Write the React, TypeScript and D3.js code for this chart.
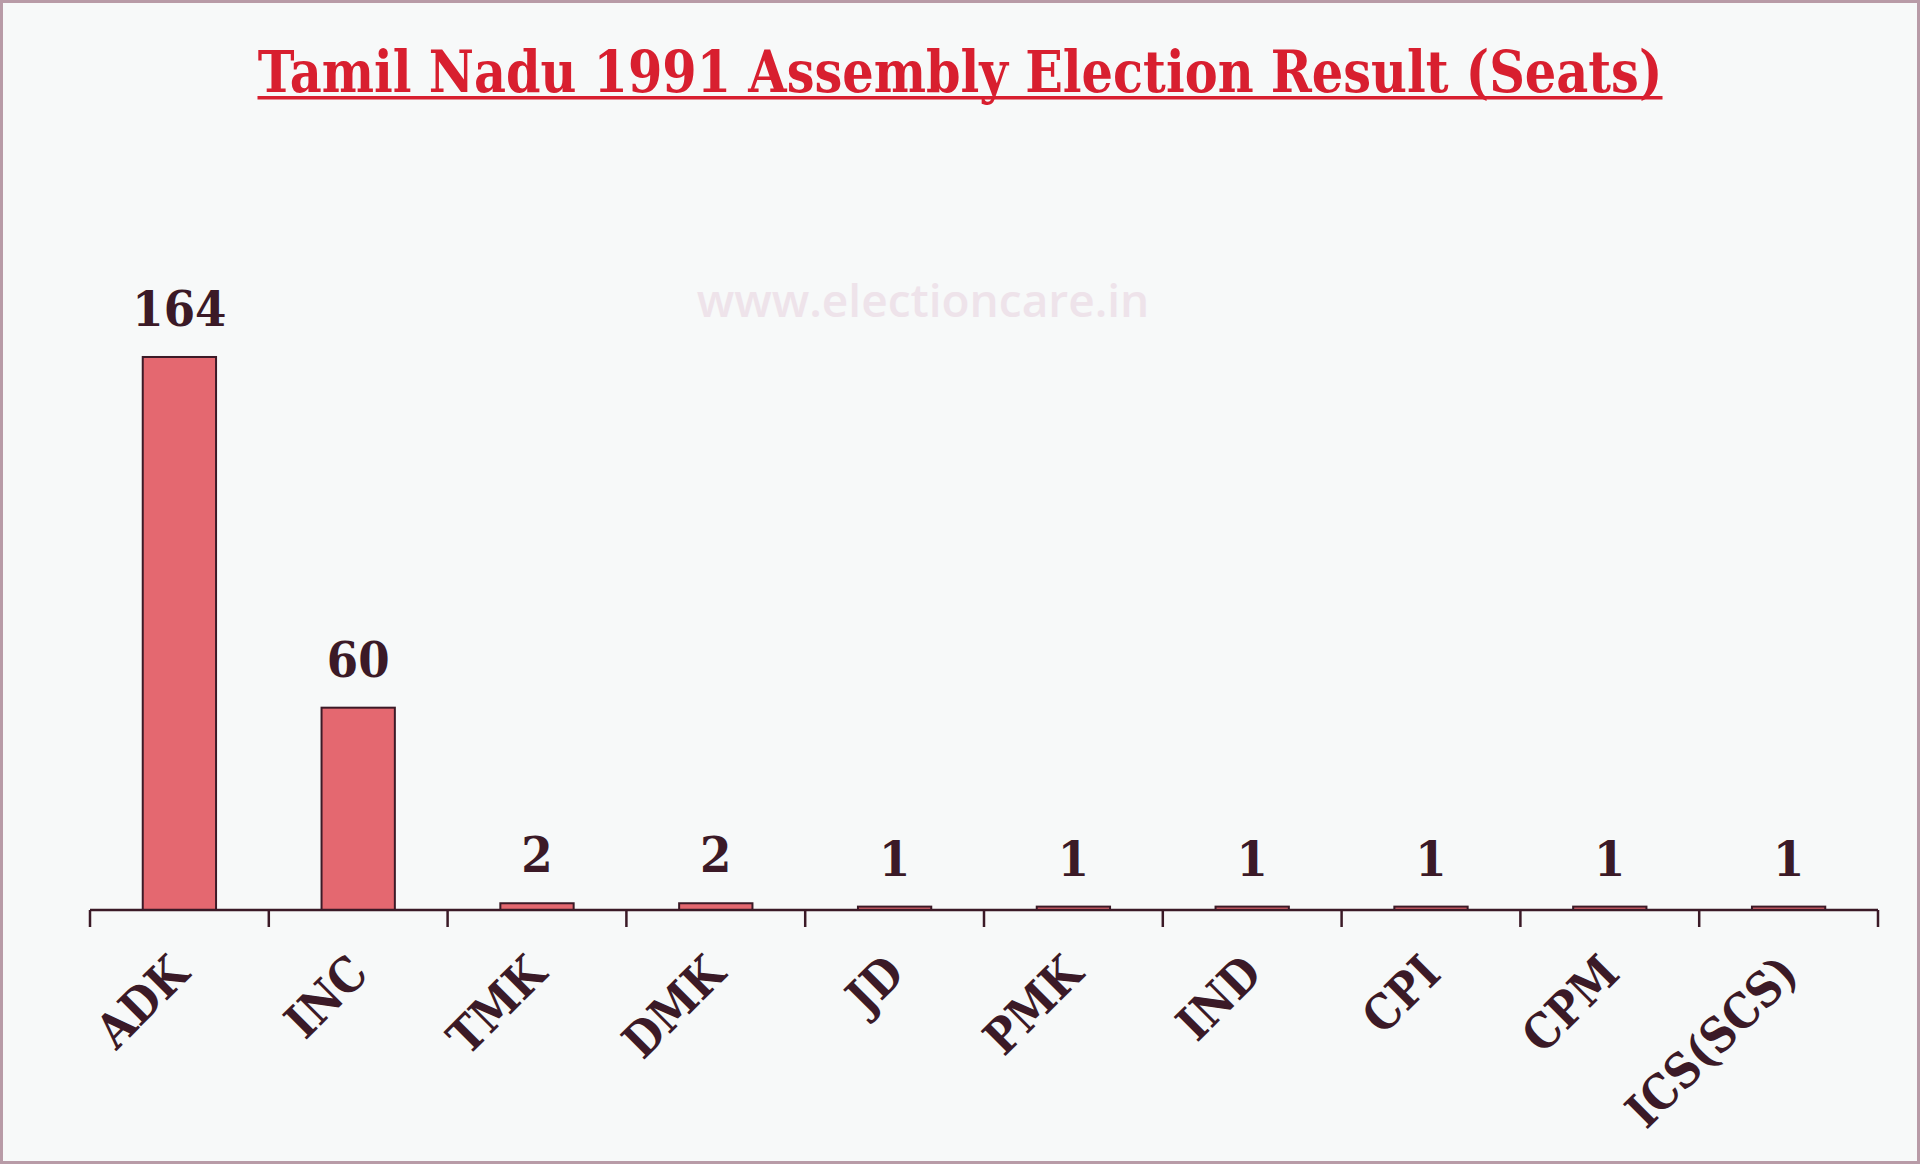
import React, { useEffect, useRef } from 'react';
import * as d3 from 'd3';

const parties = ['ADK', 'INC', 'TMK', 'DMK', 'JD', 'PMK', 'IND', 'CPI', 'CPM', 'ICS(SCS)'];
const seats = [164, 60, 2, 2, 1, 1, 1, 1, 1, 1];

const W = 1920;
const H = 1164;
const ink = '#3b1a27';
const serif = '"DejaVu Serif", serif';

const App: React.FC = () => {
  const ref = useRef<SVGSVGElement>(null);

  useEffect(() => {
    if (!ref.current) return;
    const svg = d3.select(ref.current);
    svg.selectAll('*').remove();

    const data = parties.map((p, i) => ({ name: p, value: seats[i] }));

    // plot area
    const left = 90, right = 1878, base = 910;

    // background + border
    svg.append('rect')
      .attr('x', 1.5).attr('y', 1.5)
      .attr('width', W - 3).attr('height', H - 3)
      .attr('fill', '#f7f9f9')
      .attr('stroke', '#b89ba7')
      .attr('stroke-width', 3);

    // title, scaled horizontally to the width of the original
    const titleW = 1405;
    const title = svg.append('text')
      .attr('x', 0)
      .attr('y', 0)
      .attr('text-anchor', 'middle')
      .attr('fill', '#d81f2f')
      .style('font-family', serif)
      .style('font-weight', 'bold')
      .style('font-size', '57px')
      .text('Tamil Nadu 1991 Assembly Election Result (Seats)');
    const tw = (title.node() as SVGTextElement).getComputedTextLength();
    title.attr('transform', `translate(${W / 2},92) scale(${titleW / tw},1)`);
    svg.append('rect')
      .attr('x', W / 2 - titleW / 2)
      .attr('y', 96)
      .attr('width', titleW)
      .attr('height', 3.5)
      .attr('fill', '#d81f2f');

    // watermark
    svg.append('text')
      .attr('x', 923)
      .attr('y', 317)
      .attr('text-anchor', 'middle')
      .attr('fill', '#eee3ea')
      .style('font-family', '"Open Sans", sans-serif')
      .style('font-weight', 600)
      .style('font-size', '46px')
      .text('www.electioncare.in');

    const x = d3.scaleBand<string>()
      .domain(parties)
      .range([left, right])
      .paddingInner(0.59)
      .paddingOuter(0.295);

    const y = d3.scaleLinear()
      .domain([0, 180])
      .range([base, base - 180 * 3.372]);

    const band = (right - left) / parties.length;

    // bars
    svg.selectAll('.bar')
      .data(data)
      .enter()
      .append('rect')
      .attr('class', 'bar')
      .attr('x', d => x(d.name) as number)
      .attr('y', d => y(d.value))
      .attr('width', x.bandwidth())
      .attr('height', d => base - y(d.value))
      .attr('fill', '#e46870')
      .attr('stroke', ink)
      .attr('stroke-width', 2);

    // value labels
    svg.selectAll('.label')
      .data(data)
      .enter()
      .append('text')
      .attr('class', 'label')
      .attr('transform', d => {
        const cx = (x(d.name) as number) + x.bandwidth() / 2;
        return `translate(${cx},${y(d.value) - 31}) scale(0.94,1)`;
      })
      .attr('text-anchor', 'middle')
      .attr('fill', ink)
      .style('font-family', serif)
      .style('font-weight', 'bold')
      .style('font-size', '48px')
      .text(d => d.value);

    // axis line + ticks between categories
    svg.append('line')
      .attr('x1', left).attr('x2', right)
      .attr('y1', base).attr('y2', base)
      .attr('stroke', ink).attr('stroke-width', 2.5);

    svg.selectAll('.tick')
      .data(d3.range(parties.length + 1))
      .enter()
      .append('line')
      .attr('class', 'tick')
      .attr('x1', i => left + i * band)
      .attr('x2', i => left + i * band)
      .attr('y1', base)
      .attr('y2', base + 17)
      .attr('stroke', ink)
      .attr('stroke-width', 2.5);

    // category labels
    svg.selectAll('.cat')
      .data(data)
      .enter()
      .append('text')
      .attr('class', 'cat')
      .attr('transform', d => {
        const cx = (x(d.name) as number) + x.bandwidth() / 2 + 12;
        return `translate(${cx},${base + 66}) rotate(-45) scale(0.88,1)`;
      })
      .attr('text-anchor', 'end')
      .attr('fill', ink)
      .style('font-family', serif)
      .style('font-weight', 'bold')
      .style('font-size', '48px')
      .text(d => d.name);
  }, []);

  return (
    <svg
      ref={ref}
      width={W}
      height={H}
      style={{ position: 'absolute', top: 0, left: 0, display: 'block' }}
    />
  );
};

export default App;
